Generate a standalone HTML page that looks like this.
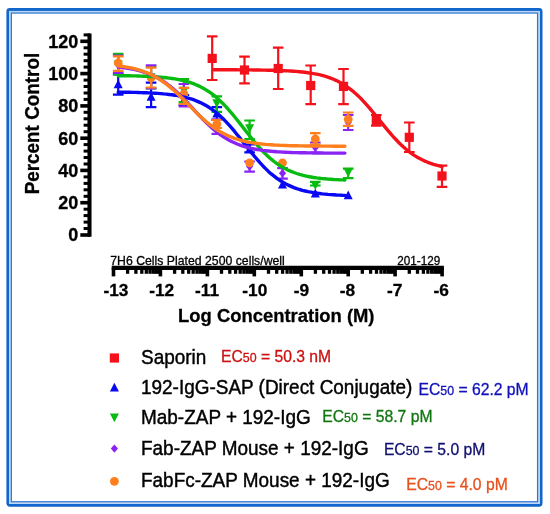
<!DOCTYPE html><html><head><meta charset="utf-8"><title>Chart</title>
<style>html,body{margin:0;padding:0;background:#fff;}body{width:550px;height:514px;overflow:hidden;}svg{display:block;font-family:"Liberation Sans",sans-serif;}</style></head><body>
<svg width="550" height="514" viewBox="0 0 550 514">
<rect width="550" height="514" fill="#fff"/>
<rect x="7.8" y="9.5" width="533.3" height="495.8" rx="2" fill="none" stroke="#1166cc" stroke-width="2.8"/>
<rect x="9.9" y="11.6" width="529.1" height="491.6" fill="none" stroke="#bcd4f5" stroke-width="1.4"/>
<rect x="11.3" y="13.0" width="526.3" height="488.8" fill="none" stroke="#2b74d0" stroke-width="1.3"/>
<g stroke="#000" fill="none">
<line x1="89.5" y1="33.4" x2="89.5" y2="236.8" stroke-width="4.1"/>
<line x1="80.3" y1="235.0" x2="90" y2="235.0" stroke-width="3.6"/>
<line x1="83.6" y1="228.5" x2="90" y2="228.5" stroke-width="3.0"/>
<line x1="83.6" y1="222.1" x2="90" y2="222.1" stroke-width="3.0"/>
<line x1="83.6" y1="215.6" x2="90" y2="215.6" stroke-width="3.0"/>
<line x1="83.6" y1="209.2" x2="90" y2="209.2" stroke-width="3.0"/>
<line x1="80.3" y1="202.7" x2="90" y2="202.7" stroke-width="3.6"/>
<line x1="83.6" y1="196.3" x2="90" y2="196.3" stroke-width="3.0"/>
<line x1="83.6" y1="189.8" x2="90" y2="189.8" stroke-width="3.0"/>
<line x1="83.6" y1="183.4" x2="90" y2="183.4" stroke-width="3.0"/>
<line x1="83.6" y1="176.9" x2="90" y2="176.9" stroke-width="3.0"/>
<line x1="80.3" y1="170.4" x2="90" y2="170.4" stroke-width="3.6"/>
<line x1="83.6" y1="164.0" x2="90" y2="164.0" stroke-width="3.0"/>
<line x1="83.6" y1="157.5" x2="90" y2="157.5" stroke-width="3.0"/>
<line x1="83.6" y1="151.1" x2="90" y2="151.1" stroke-width="3.0"/>
<line x1="83.6" y1="144.6" x2="90" y2="144.6" stroke-width="3.0"/>
<line x1="80.3" y1="138.2" x2="90" y2="138.2" stroke-width="3.6"/>
<line x1="83.6" y1="131.7" x2="90" y2="131.7" stroke-width="3.0"/>
<line x1="83.6" y1="125.2" x2="90" y2="125.2" stroke-width="3.0"/>
<line x1="83.6" y1="118.8" x2="90" y2="118.8" stroke-width="3.0"/>
<line x1="83.6" y1="112.3" x2="90" y2="112.3" stroke-width="3.0"/>
<line x1="80.3" y1="105.9" x2="90" y2="105.9" stroke-width="3.6"/>
<line x1="83.6" y1="99.4" x2="90" y2="99.4" stroke-width="3.0"/>
<line x1="83.6" y1="93.0" x2="90" y2="93.0" stroke-width="3.0"/>
<line x1="83.6" y1="86.5" x2="90" y2="86.5" stroke-width="3.0"/>
<line x1="83.6" y1="80.1" x2="90" y2="80.1" stroke-width="3.0"/>
<line x1="80.3" y1="73.6" x2="90" y2="73.6" stroke-width="3.6"/>
<line x1="83.6" y1="67.1" x2="90" y2="67.1" stroke-width="3.0"/>
<line x1="83.6" y1="60.7" x2="90" y2="60.7" stroke-width="3.0"/>
<line x1="83.6" y1="54.2" x2="90" y2="54.2" stroke-width="3.0"/>
<line x1="83.6" y1="47.8" x2="90" y2="47.8" stroke-width="3.0"/>
<line x1="80.3" y1="41.3" x2="90" y2="41.3" stroke-width="3.6"/>
<line x1="83.6" y1="34.9" x2="90" y2="34.9" stroke-width="3.0"/>
<line x1="111.7" y1="267.8" x2="443.9" y2="267.8" stroke-width="4.3"/>
<line x1="113.5" y1="268" x2="113.5" y2="276.4" stroke-width="3.6"/>
<line x1="127.6" y1="268" x2="127.6" y2="273.8" stroke-width="3.3"/>
<line x1="135.9" y1="268" x2="135.9" y2="273.8" stroke-width="3.3"/>
<line x1="141.8" y1="268" x2="141.8" y2="273.8" stroke-width="3.3"/>
<line x1="146.3" y1="268" x2="146.3" y2="273.8" stroke-width="3.3"/>
<line x1="150.0" y1="268" x2="150.0" y2="273.8" stroke-width="3.3"/>
<line x1="153.2" y1="268" x2="153.2" y2="273.8" stroke-width="3.3"/>
<line x1="155.9" y1="268" x2="155.9" y2="273.8" stroke-width="3.3"/>
<line x1="158.3" y1="268" x2="158.3" y2="273.8" stroke-width="3.3"/>
<line x1="160.4" y1="268" x2="160.4" y2="276.4" stroke-width="3.6"/>
<line x1="174.6" y1="268" x2="174.6" y2="273.8" stroke-width="3.3"/>
<line x1="182.8" y1="268" x2="182.8" y2="273.8" stroke-width="3.3"/>
<line x1="188.7" y1="268" x2="188.7" y2="273.8" stroke-width="3.3"/>
<line x1="193.2" y1="268" x2="193.2" y2="273.8" stroke-width="3.3"/>
<line x1="197.0" y1="268" x2="197.0" y2="273.8" stroke-width="3.3"/>
<line x1="200.1" y1="268" x2="200.1" y2="273.8" stroke-width="3.3"/>
<line x1="202.8" y1="268" x2="202.8" y2="273.8" stroke-width="3.3"/>
<line x1="205.2" y1="268" x2="205.2" y2="273.8" stroke-width="3.3"/>
<line x1="207.4" y1="268" x2="207.4" y2="276.4" stroke-width="3.6"/>
<line x1="221.5" y1="268" x2="221.5" y2="273.8" stroke-width="3.3"/>
<line x1="229.8" y1="268" x2="229.8" y2="273.8" stroke-width="3.3"/>
<line x1="235.6" y1="268" x2="235.6" y2="273.8" stroke-width="3.3"/>
<line x1="240.2" y1="268" x2="240.2" y2="273.8" stroke-width="3.3"/>
<line x1="243.9" y1="268" x2="243.9" y2="273.8" stroke-width="3.3"/>
<line x1="247.0" y1="268" x2="247.0" y2="273.8" stroke-width="3.3"/>
<line x1="249.8" y1="268" x2="249.8" y2="273.8" stroke-width="3.3"/>
<line x1="252.2" y1="268" x2="252.2" y2="273.8" stroke-width="3.3"/>
<line x1="254.3" y1="268" x2="254.3" y2="276.4" stroke-width="3.6"/>
<line x1="268.5" y1="268" x2="268.5" y2="273.8" stroke-width="3.3"/>
<line x1="276.7" y1="268" x2="276.7" y2="273.8" stroke-width="3.3"/>
<line x1="282.6" y1="268" x2="282.6" y2="273.8" stroke-width="3.3"/>
<line x1="287.1" y1="268" x2="287.1" y2="273.8" stroke-width="3.3"/>
<line x1="290.8" y1="268" x2="290.8" y2="273.8" stroke-width="3.3"/>
<line x1="294.0" y1="268" x2="294.0" y2="273.8" stroke-width="3.3"/>
<line x1="296.7" y1="268" x2="296.7" y2="273.8" stroke-width="3.3"/>
<line x1="299.1" y1="268" x2="299.1" y2="273.8" stroke-width="3.3"/>
<line x1="301.3" y1="268" x2="301.3" y2="276.4" stroke-width="3.6"/>
<line x1="315.4" y1="268" x2="315.4" y2="273.8" stroke-width="3.3"/>
<line x1="323.7" y1="268" x2="323.7" y2="273.8" stroke-width="3.3"/>
<line x1="329.5" y1="268" x2="329.5" y2="273.8" stroke-width="3.3"/>
<line x1="334.1" y1="268" x2="334.1" y2="273.8" stroke-width="3.3"/>
<line x1="337.8" y1="268" x2="337.8" y2="273.8" stroke-width="3.3"/>
<line x1="340.9" y1="268" x2="340.9" y2="273.8" stroke-width="3.3"/>
<line x1="343.7" y1="268" x2="343.7" y2="273.8" stroke-width="3.3"/>
<line x1="346.1" y1="268" x2="346.1" y2="273.8" stroke-width="3.3"/>
<line x1="348.2" y1="268" x2="348.2" y2="276.4" stroke-width="3.6"/>
<line x1="362.3" y1="268" x2="362.3" y2="273.8" stroke-width="3.3"/>
<line x1="370.6" y1="268" x2="370.6" y2="273.8" stroke-width="3.3"/>
<line x1="376.5" y1="268" x2="376.5" y2="273.8" stroke-width="3.3"/>
<line x1="381.0" y1="268" x2="381.0" y2="273.8" stroke-width="3.3"/>
<line x1="384.7" y1="268" x2="384.7" y2="273.8" stroke-width="3.3"/>
<line x1="387.9" y1="268" x2="387.9" y2="273.8" stroke-width="3.3"/>
<line x1="390.6" y1="268" x2="390.6" y2="273.8" stroke-width="3.3"/>
<line x1="393.0" y1="268" x2="393.0" y2="273.8" stroke-width="3.3"/>
<line x1="395.1" y1="268" x2="395.1" y2="276.4" stroke-width="3.6"/>
<line x1="409.3" y1="268" x2="409.3" y2="273.8" stroke-width="3.3"/>
<line x1="417.5" y1="268" x2="417.5" y2="273.8" stroke-width="3.3"/>
<line x1="423.4" y1="268" x2="423.4" y2="273.8" stroke-width="3.3"/>
<line x1="427.9" y1="268" x2="427.9" y2="273.8" stroke-width="3.3"/>
<line x1="431.7" y1="268" x2="431.7" y2="273.8" stroke-width="3.3"/>
<line x1="434.8" y1="268" x2="434.8" y2="273.8" stroke-width="3.3"/>
<line x1="437.5" y1="268" x2="437.5" y2="273.8" stroke-width="3.3"/>
<line x1="439.9" y1="268" x2="439.9" y2="273.8" stroke-width="3.3"/>
<line x1="442.1" y1="268" x2="442.1" y2="276.4" stroke-width="3.6"/>
</g>
<g font-weight="bold" font-size="18" text-anchor="end" fill="#000" stroke="#000" stroke-width="0.3">
<text x="78.3" y="241.4">0</text>
<text x="78.3" y="209.1">20</text>
<text x="78.3" y="176.8">40</text>
<text x="78.3" y="144.6">60</text>
<text x="78.3" y="112.3">80</text>
<text x="78.3" y="80.0">100</text>
<text x="78.3" y="47.7">120</text>
</g>
<g font-weight="bold" font-size="17.3" text-anchor="middle" fill="#000" stroke="#000" stroke-width="0.3">
<text x="116.0" y="295.7">-13</text>
<text x="161.7" y="295.7">-12</text>
<text x="207.0" y="295.7">-11</text>
<text x="254.8" y="295.7">-10</text>
<text x="301.4" y="295.7">-9</text>
<text x="347.4" y="295.7">-8</text>
<text x="394.6" y="295.7">-7</text>
<text x="441.2" y="295.7">-6</text>
</g>
<text x="178" y="321.9" font-weight="bold" font-size="19.2" stroke="#000" stroke-width="0.3" textLength="196.5" lengthAdjust="spacingAndGlyphs">Log Concentration (M)</text>
<text transform="translate(39.3,194.3) rotate(-90)" font-weight="bold" font-size="19.6" stroke="#000" stroke-width="0.3" textLength="141.5" lengthAdjust="spacingAndGlyphs">Percent Control</text>
<text x="110.3" y="264.6" font-size="12.4" stroke="#000" stroke-width="0.3" textLength="174.5" lengthAdjust="spacingAndGlyphs">7H6 Cells Plated 2500 cells/well</text>
<text x="397.2" y="264.6" font-size="12.2" stroke="#000" stroke-width="0.3" textLength="43" lengthAdjust="spacingAndGlyphs">201-129</text>
<path d="M212.2 36.4V80.0M206.9 36.4h10.6M206.9 80.0h10.6" stroke="#f3121c" stroke-width="2.2" fill="none"/>
<path d="M244.5 56.7V83.3M239.2 56.7h10.6M239.2 83.3h10.6" stroke="#f3121c" stroke-width="2.2" fill="none"/>
<path d="M278.2 47.6V89.0M272.9 47.6h10.6M272.9 89.0h10.6" stroke="#f3121c" stroke-width="2.2" fill="none"/>
<path d="M310.7 65.5V104.2M305.4 65.5h10.6M305.4 104.2h10.6" stroke="#f3121c" stroke-width="2.2" fill="none"/>
<path d="M343.5 69.0V104.2M338.2 69.0h10.6M338.2 104.2h10.6" stroke="#f3121c" stroke-width="2.2" fill="none"/>
<path d="M376.3 115.0V125.7M371.0 115.0h10.6M371.0 125.7h10.6" stroke="#f3121c" stroke-width="2.2" fill="none"/>
<path d="M409.3 122.5V152.0M404.0 122.5h10.6M404.0 152.0h10.6" stroke="#f3121c" stroke-width="2.2" fill="none"/>
<path d="M442.0 165.6V186.8M436.7 165.6h10.6M436.7 186.8h10.6" stroke="#f3121c" stroke-width="2.2" fill="none"/>
<rect x="207.6" y="53.8" width="9.2" height="9.2" fill="#f3121c"/>
<rect x="239.9" y="65.4" width="9.2" height="9.2" fill="#f3121c"/>
<rect x="273.6" y="63.9" width="9.2" height="9.2" fill="#f3121c"/>
<rect x="306.1" y="80.9" width="9.2" height="9.2" fill="#f3121c"/>
<rect x="338.9" y="81.8" width="9.2" height="9.2" fill="#f3121c"/>
<rect x="371.7" y="115.7" width="9.2" height="9.2" fill="#f3121c"/>
<rect x="404.7" y="132.7" width="9.2" height="9.2" fill="#f3121c"/>
<rect x="437.4" y="171.4" width="9.2" height="9.2" fill="#f3121c"/>
<path d="M118.2 74.3V94.7M112.9 74.3h10.6M112.9 94.7h10.6" stroke="#0808f4" stroke-width="2.2" fill="none"/>
<path d="M151.1 82.7V107.2M145.8 82.7h10.6M145.8 107.2h10.6" stroke="#0808f4" stroke-width="2.2" fill="none"/>
<path d="M183.9 95.0V105.0M178.6 95.0h10.6M178.6 105.0h10.6" stroke="#0808f4" stroke-width="2.2" fill="none"/>
<path d="M216.8 107.2V120.0M211.5 107.2h10.6M211.5 120.0h10.6" stroke="#0808f4" stroke-width="2.2" fill="none"/>
<path d="M249.6 144.5V152.3M244.3 144.5h10.6M244.3 152.3h10.6" stroke="#0808f4" stroke-width="2.2" fill="none"/>
<path d="M118.2 79.5L122.7 88.3H113.7Z" fill="#0808f4"/>
<path d="M151.1 92.0L155.6 100.8H146.6Z" fill="#0808f4"/>
<path d="M183.9 95.0L188.4 103.8H179.4Z" fill="#0808f4"/>
<path d="M216.8 108.6L221.3 117.4H212.3Z" fill="#0808f4"/>
<path d="M249.6 144.2L254.1 153.0H245.1Z" fill="#0808f4"/>
<path d="M282.5 179.7L287.0 188.5H278.0Z" fill="#0808f4"/>
<path d="M315.3 188.6L319.8 197.4H310.8Z" fill="#0808f4"/>
<path d="M348.2 190.5L352.7 199.3H343.7Z" fill="#0808f4"/>
<path d="M118.2 53.9V74.4M112.9 53.9h10.6M112.9 74.4h10.6" stroke="#08bb10" stroke-width="2.2" fill="none"/>
<path d="M151.1 66.5V88.3M145.8 66.5h10.6M145.8 88.3h10.6" stroke="#08bb10" stroke-width="2.2" fill="none"/>
<path d="M183.9 79.2V102.0M178.6 79.2h10.6M178.6 102.0h10.6" stroke="#08bb10" stroke-width="2.2" fill="none"/>
<path d="M216.8 96.4V111.8M211.5 96.4h10.6M211.5 111.8h10.6" stroke="#08bb10" stroke-width="2.2" fill="none"/>
<path d="M249.6 120.5V139.0M244.3 120.5h10.6M244.3 139.0h10.6" stroke="#08bb10" stroke-width="2.2" fill="none"/>
<path d="M315.3 181.8V185.5M310.0 181.8h10.6M310.0 185.5h10.6" stroke="#08bb10" stroke-width="2.2" fill="none"/>
<path d="M348.2 168.6V178.2M342.9 168.6h10.6M342.9 178.2h10.6" stroke="#08bb10" stroke-width="2.2" fill="none"/>
<path d="M118.2 69.3L122.7 60.5H113.7Z" fill="#08bb10"/>
<path d="M151.1 82.0L155.6 73.2H146.6Z" fill="#08bb10"/>
<path d="M183.9 95.6L188.4 86.8H179.4Z" fill="#08bb10"/>
<path d="M216.8 108.0L221.3 99.2H212.3Z" fill="#08bb10"/>
<path d="M249.6 133.0L254.1 124.2H245.1Z" fill="#08bb10"/>
<path d="M315.3 190.0L319.8 181.2H310.8Z" fill="#08bb10"/>
<path d="M348.2 177.3L352.7 168.5H343.7Z" fill="#08bb10"/>
<path d="M118.2 55.5V72.8M112.9 55.5h10.6M112.9 72.8h10.6" stroke="#8a24f4" stroke-width="2.2" fill="none"/>
<path d="M151.1 65.4V88.5M145.8 65.4h10.6M145.8 88.5h10.6" stroke="#8a24f4" stroke-width="2.2" fill="none"/>
<path d="M183.9 84.0V106.5M178.6 84.0h10.6M178.6 106.5h10.6" stroke="#8a24f4" stroke-width="2.2" fill="none"/>
<path d="M216.8 119.3V133.9M211.5 119.3h10.6M211.5 133.9h10.6" stroke="#8a24f4" stroke-width="2.2" fill="none"/>
<path d="M249.6 161.5V171.7M244.3 161.5h10.6M244.3 171.7h10.6" stroke="#8a24f4" stroke-width="2.2" fill="none"/>
<path d="M282.5 168.2V178.6M277.2 168.2h10.6M277.2 178.6h10.6" stroke="#8a24f4" stroke-width="2.2" fill="none"/>
<path d="M315.3 142.5V152.7M310.0 142.5h10.6M310.0 152.7h10.6" stroke="#8a24f4" stroke-width="2.2" fill="none"/>
<path d="M348.2 115.0V130.0M342.9 115.0h10.6M342.9 130.0h10.6" stroke="#8a24f4" stroke-width="2.2" fill="none"/>
<path d="M118.2 59.8L121.8 64.0L118.2 68.2L114.6 64.0Z" fill="#8a24f4"/>
<path d="M151.1 72.8L154.7 77.0L151.1 81.2L147.5 77.0Z" fill="#8a24f4"/>
<path d="M183.9 91.0L187.5 95.2L183.9 99.4L180.3 95.2Z" fill="#8a24f4"/>
<path d="M216.8 122.3L220.4 126.5L216.8 130.7L213.2 126.5Z" fill="#8a24f4"/>
<path d="M249.6 162.4L253.2 166.6L249.6 170.8L246.0 166.6Z" fill="#8a24f4"/>
<path d="M282.5 169.1L286.1 173.3L282.5 177.5L278.9 173.3Z" fill="#8a24f4"/>
<path d="M315.3 143.4L318.9 147.6L315.3 151.8L311.7 147.6Z" fill="#8a24f4"/>
<path d="M348.2 118.3L351.8 122.5L348.2 126.7L344.6 122.5Z" fill="#8a24f4"/>
<path d="M118.2 56.3V70.9M112.9 56.3h10.6M112.9 70.9h10.6" stroke="#ff7f1e" stroke-width="2.2" fill="none"/>
<path d="M151.1 67.7V87.5M145.8 67.7h10.6M145.8 87.5h10.6" stroke="#ff7f1e" stroke-width="2.2" fill="none"/>
<path d="M183.9 87.8V104.0M178.6 87.8h10.6M178.6 104.0h10.6" stroke="#ff7f1e" stroke-width="2.2" fill="none"/>
<path d="M216.8 120.0V128.0M211.5 120.0h10.6M211.5 128.0h10.6" stroke="#ff7f1e" stroke-width="2.2" fill="none"/>
<path d="M315.3 133.1V144.7M310.0 133.1h10.6M310.0 144.7h10.6" stroke="#ff7f1e" stroke-width="2.2" fill="none"/>
<path d="M348.2 112.5V125.8M342.9 112.5h10.6M342.9 125.8h10.6" stroke="#ff7f1e" stroke-width="2.2" fill="none"/>
<circle cx="118.2" cy="63.0" r="4.4" fill="#ff7f1e"/>
<circle cx="151.1" cy="77.7" r="4.4" fill="#ff7f1e"/>
<circle cx="183.9" cy="94.0" r="4.4" fill="#ff7f1e"/>
<circle cx="216.8" cy="124.0" r="4.4" fill="#ff7f1e"/>
<circle cx="249.6" cy="162.8" r="4.4" fill="#ff7f1e"/>
<circle cx="282.5" cy="162.8" r="4.4" fill="#ff7f1e"/>
<circle cx="315.3" cy="139.0" r="4.4" fill="#ff7f1e"/>
<circle cx="348.2" cy="119.3" r="4.4" fill="#ff7f1e"/>
<polyline points="213.5,69.8 216.3,69.8 219.2,69.8 222.1,69.8 224.9,69.8 227.8,69.8 230.6,69.8 233.5,69.8 236.3,69.8 239.2,69.9 242.1,69.9 244.9,69.9 247.8,69.9 250.6,69.9 253.5,70.0 256.3,70.0 259.2,70.0 262.1,70.1 264.9,70.1 267.8,70.2 270.6,70.2 273.5,70.3 276.3,70.4 279.2,70.5 282.1,70.6 284.9,70.7 287.8,70.9 290.6,71.0 293.5,71.2 296.3,71.4 299.2,71.7 302.1,72.0 304.9,72.3 307.8,72.7 310.6,73.1 313.5,73.6 316.4,74.1 319.2,74.7 322.1,75.4 324.9,76.2 327.8,77.1 330.6,78.1 333.5,79.3 336.4,80.6 339.2,82.0 342.1,83.6 344.9,85.4 347.8,87.3 350.6,89.4 353.5,91.7 356.4,94.2 359.2,96.9 362.1,99.8 364.9,102.9 367.8,106.1 370.6,109.4 373.5,112.8 376.4,116.3 379.2,119.8 382.1,123.4 384.9,126.9 387.8,130.4 390.6,133.7 393.5,137.0 396.4,140.0 399.2,143.0 402.1,145.7 404.9,148.3 407.8,150.7 410.6,152.8 413.5,154.8 416.4,156.7 419.2,158.3 422.1,159.8 424.9,161.1 427.8,162.3 430.7,163.3 433.5,164.3 436.4,165.1 439.2,165.8 442.1,166.5" fill="none" stroke="#f3121c" stroke-width="3.4" stroke-linecap="round" stroke-linejoin="round"/>
<polyline points="118.2,92.2 121.0,92.2 123.9,92.2 126.7,92.3 129.5,92.3 132.4,92.4 135.2,92.4 138.0,92.5 140.9,92.6 143.7,92.7 146.5,92.8 149.4,92.9 152.2,93.1 155.0,93.2 157.9,93.4 160.7,93.6 163.5,93.9 166.4,94.1 169.2,94.5 172.0,94.8 174.9,95.2 177.7,95.7 180.5,96.3 183.4,96.9 186.2,97.6 189.0,98.3 191.9,99.2 194.7,100.2 197.5,101.4 200.4,102.6 203.2,104.0 206.0,105.6 208.9,107.3 211.7,109.2 214.6,111.3 217.4,113.6 220.2,116.1 223.1,118.8 225.9,121.6 228.7,124.7 231.6,127.9 234.4,131.2 237.2,134.7 240.1,138.2 242.9,141.8 245.7,145.4 248.6,149.0 251.4,152.6 254.2,156.0 257.1,159.4 259.9,162.7 262.7,165.7 265.6,168.6 268.4,171.4 271.2,173.9 274.1,176.2 276.9,178.4 279.7,180.3 282.6,182.1 285.4,183.7 288.2,185.1 291.1,186.4 293.9,187.6 296.7,188.6 299.6,189.5 302.4,190.3 305.2,191.0 308.1,191.7 310.9,192.2 313.7,192.7 316.6,193.1 319.4,193.5 322.2,193.9 325.1,194.1 327.9,194.4 330.7,194.6 333.6,194.8 336.4,195.0 339.2,195.1 342.1,195.3 344.9,195.4" fill="none" stroke="#0808f4" stroke-width="3.4" stroke-linecap="round" stroke-linejoin="round"/>
<polyline points="118.2,75.7 121.0,75.7 123.9,75.7 126.7,75.8 129.5,75.8 132.4,75.9 135.2,75.9 138.0,76.0 140.9,76.1 143.7,76.2 146.5,76.3 149.4,76.5 152.2,76.6 155.0,76.8 157.9,77.0 160.7,77.2 163.5,77.5 166.4,77.8 169.2,78.1 172.0,78.5 174.9,78.9 177.7,79.4 180.5,80.0 183.4,80.7 186.2,81.4 189.0,82.2 191.9,83.2 194.7,84.2 197.5,85.4 200.4,86.8 203.2,88.2 206.0,89.9 208.9,91.7 211.7,93.7 214.6,95.9 217.4,98.3 220.2,100.9 223.1,103.7 225.9,106.6 228.7,109.8 231.6,113.1 234.4,116.5 237.2,120.0 240.1,123.6 242.9,127.3 245.7,130.9 248.6,134.5 251.4,138.1 254.2,141.6 257.1,144.9 259.9,148.2 262.7,151.2 265.6,154.1 268.4,156.7 271.2,159.2 274.1,161.5 276.9,163.6 279.7,165.5 282.6,167.2 285.4,168.8 288.2,170.2 291.1,171.4 293.9,172.5 296.7,173.5 299.6,174.4 302.4,175.2 305.2,175.9 308.1,176.5 310.9,177.0 313.7,177.5 316.6,177.9 319.4,178.2 322.2,178.6 325.1,178.8 327.9,179.1 330.7,179.3 333.6,179.5 336.4,179.6 339.2,179.8 342.1,179.9 344.9,180.0" fill="none" stroke="#08bb10" stroke-width="3.4" stroke-linecap="round" stroke-linejoin="round"/>
<polyline points="118.2,67.1 121.0,67.4 123.9,67.7 126.7,68.1 129.5,68.6 132.4,69.1 135.2,69.7 138.0,70.4 140.9,71.2 143.7,72.0 146.5,73.0 149.4,74.1 152.2,75.3 155.0,76.6 157.9,78.1 160.7,79.7 163.5,81.5 166.4,83.5 169.2,85.6 172.0,87.9 174.9,90.4 177.7,92.9 180.5,95.7 183.4,98.5 186.2,101.4 189.0,104.5 191.9,107.5 194.7,110.6 197.5,113.6 200.4,116.6 203.2,119.6 206.0,122.4 208.9,125.1 211.7,127.7 214.6,130.2 217.4,132.5 220.2,134.6 223.1,136.5 225.9,138.3 228.7,140.0 231.6,141.5 234.4,142.8 237.2,144.0 240.1,145.1 242.9,146.1 245.7,146.9 248.6,147.7 251.4,148.4 254.2,149.0 257.1,149.5 259.9,149.9 262.7,150.4 265.6,150.7 268.4,151.0 271.2,151.3 274.1,151.5 276.9,151.8 279.7,151.9 282.6,152.1 285.4,152.2 288.2,152.4 291.1,152.5 293.9,152.6 296.7,152.6 299.6,152.7 302.4,152.8 305.2,152.8 308.1,152.9 310.9,152.9 313.7,153.0 316.6,153.0 319.4,153.0 322.2,153.0 325.1,153.1 327.9,153.1 330.7,153.1 333.6,153.1 336.4,153.1 339.2,153.1 342.1,153.1 344.9,153.1" fill="none" stroke="#8a24f4" stroke-width="3.4" stroke-linecap="round" stroke-linejoin="round"/>
<polyline points="118.2,65.8 121.0,66.2 123.9,66.6 126.7,67.1 129.5,67.6 132.4,68.2 135.2,68.9 138.0,69.7 140.9,70.6 143.7,71.5 146.5,72.6 149.4,73.8 152.2,75.2 155.0,76.7 157.9,78.3 160.7,80.1 163.5,82.0 166.4,84.1 169.2,86.4 172.0,88.8 174.9,91.3 177.7,93.9 180.5,96.7 183.4,99.5 186.2,102.3 189.0,105.2 191.9,108.1 194.7,110.9 197.5,113.7 200.4,116.4 203.2,119.0 206.0,121.5 208.9,123.8 211.7,126.0 214.6,128.1 217.4,130.0 220.2,131.7 223.1,133.3 225.9,134.7 228.7,136.1 231.6,137.2 234.4,138.3 237.2,139.2 240.1,140.1 242.9,140.8 245.7,141.5 248.6,142.1 251.4,142.6 254.2,143.0 257.1,143.4 259.9,143.8 262.7,144.1 265.6,144.4 268.4,144.6 271.2,144.8 274.1,145.0 276.9,145.1 279.7,145.3 282.6,145.4 285.4,145.5 288.2,145.6 291.1,145.7 293.9,145.8 296.7,145.8 299.6,145.9 302.4,145.9 305.2,146.0 308.1,146.0 310.9,146.0 313.7,146.0 316.6,146.1 319.4,146.1 322.2,146.1 325.1,146.1 327.9,146.1 330.7,146.1 333.6,146.2 336.4,146.2 339.2,146.2 342.1,146.2 344.9,146.2" fill="none" stroke="#ff7f1e" stroke-width="3.4" stroke-linecap="round" stroke-linejoin="round"/>
<rect x="109.8" y="353.4" width="9.2" height="9.2" fill="#f3121c"/>
<text transform="translate(141.0,364.2) scale(1,1.08)" font-size="18.95" fill="#000" stroke="#000" stroke-width="0.4">Saporin</text>
<text x="221.0" y="361.7" font-size="15.7" fill="#cc1111" stroke="#cc1111" stroke-width="0.3">EC<tspan font-size="12.4">50</tspan> = 50.3 nM</text>
<path d="M114.4 382.7L118.9 391.5H109.9Z" fill="#0808f4"/>
<text transform="translate(141.0,394.1) scale(1,1.08)" font-size="18.95" fill="#000" stroke="#000" stroke-width="0.4">192-IgG-SAP (Direct Conjugate)</text>
<text x="418.5" y="394.6" font-size="15.7" fill="#1111bb" stroke="#1111bb" stroke-width="0.3">EC<tspan font-size="12.4">50</tspan> = 62.2 pM</text>
<path d="M114.4 422.3L118.9 413.5H109.9Z" fill="#08bb10"/>
<text transform="translate(141.0,423.5) scale(1,1.08)" font-size="18.95" fill="#000" stroke="#000" stroke-width="0.4">Mab-ZAP + 192-IgG</text>
<text x="322.3" y="422.1" font-size="15.7" fill="#117711" stroke="#117711" stroke-width="0.3">EC<tspan font-size="12.4">50</tspan> = 58.7 pM</text>
<path d="M114.4 444.4L118.0 448.6L114.4 452.8L110.8 448.6Z" fill="#8a24f4"/>
<text transform="translate(141.0,454.5) scale(1,1.08)" font-size="18.95" fill="#000" stroke="#000" stroke-width="0.4">Fab-ZAP Mouse + 192-IgG</text>
<text x="383.9" y="454.8" font-size="15.7" fill="#101070" stroke="#101070" stroke-width="0.3">EC<tspan font-size="12.4">50</tspan> = 5.0 pM</text>
<circle cx="114.4" cy="481.3" r="4.4" fill="#ff7f1e"/>
<text transform="translate(141.0,486.6) scale(1,1.08)" font-size="18.95" fill="#000" stroke="#000" stroke-width="0.4">FabFc-ZAP Mouse + 192-IgG</text>
<text x="406.3" y="489.6" font-size="15.7" fill="#e8501c" stroke="#e8501c" stroke-width="0.3">EC<tspan font-size="12.4">50</tspan> = 4.0 pM</text>
</svg></body></html>
